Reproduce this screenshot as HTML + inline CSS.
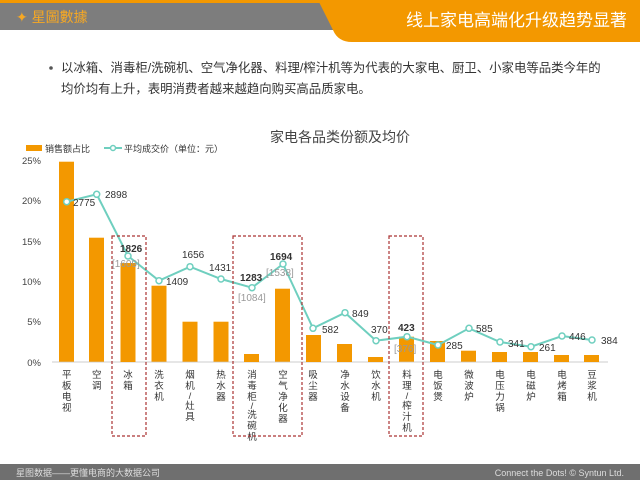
<!DOCTYPE html>
<html><head><meta charset="utf-8"><style>
body{margin:0;width:640px;height:480px;overflow:hidden;background:#fff;font-family:"Liberation Sans","Noto Sans CJK SC",sans-serif}
</style></head><body>
<svg width="640" height="480" xmlns="http://www.w3.org/2000/svg" style="position:absolute;left:0;top:0;font-family:'Liberation Sans','Noto Sans CJK SC',sans-serif">
<rect x="0" y="0" width="640" height="3" fill="#f39800"/>
<rect x="0" y="3" width="340" height="27" fill="#7d7d7d"/>
<path d="M318 0 L640 0 L640 42 L352 42 Q338 42 333 30 L322 8 Q319 2 318 0 Z" fill="#f39800"/>
<text x="16" y="22" font-size="14" fill="#f7a823">✦ 星圖數據</text>
<text x="627" y="26" font-size="17" fill="#fff" text-anchor="end">线上家电高端化升级趋势显著</text>
<circle cx="51" cy="68" r="1.8" fill="#555"/>
<text x="61" y="72" font-size="12.4" fill="#333">以冰箱、消毒柜/洗碗机、空气净化器、料理/榨汁机等为代表的大家电、厨卫、小家电等品类今年的</text>
<text x="61" y="93" font-size="12.4" fill="#333">均价均有上升，表明消费者越来越趋向购买高品质家电。</text>
<text x="340" y="142" font-size="14" fill="#444" text-anchor="middle">家电各品类份额及均价</text>
<rect x="26" y="145" width="16" height="6" fill="#f39800"/>
<text x="45" y="152" font-size="9" fill="#333">销售额占比</text>
<line x1="104" y1="148" x2="122" y2="148" stroke="#6fcfbf" stroke-width="2"/>
<circle cx="113" cy="148" r="2.5" fill="#fff" stroke="#6fcfbf" stroke-width="1.5"/>
<text x="124" y="152" font-size="9" fill="#333">平均成交价（单位：元）</text>
<g font-size="9.5" fill="#444" text-anchor="end">
<text x="41" y="164">25%</text><text x="41" y="204">20%</text><text x="41" y="245">15%</text><text x="41" y="285">10%</text><text x="41" y="325">5%</text><text x="41" y="366">0%</text>
</g>
<line x1="52" y1="362" x2="608" y2="362" stroke="#ccc" stroke-width="1"/>
<g fill="#f39800">
<rect x="59" y="161.7" width="15" height="200"/>
<rect x="89" y="237.7" width="15" height="124"/>
<rect x="120.5" y="263" width="15" height="99"/>
<rect x="151.5" y="285.7" width="15" height="76"/>
<rect x="182.5" y="321.7" width="15" height="40"/>
<rect x="213.5" y="321.7" width="15" height="40"/>
<rect x="244" y="354" width="15" height="8"/>
<rect x="275" y="288.7" width="15" height="73"/>
<rect x="306" y="335" width="15" height="27"/>
<rect x="337" y="344" width="15" height="18"/>
<rect x="368" y="357" width="15" height="5"/>
<rect x="399" y="336.7" width="15" height="25"/>
<rect x="430" y="341" width="15" height="21"/>
<rect x="461" y="350.7" width="15" height="11"/>
<rect x="492" y="352" width="15" height="10"/>
<rect x="523" y="352" width="15" height="10"/>
<rect x="554" y="355" width="15" height="7"/>
<rect x="584" y="355" width="15" height="7"/>
</g>
<polyline fill="none" stroke="#6fcfbf" stroke-width="2" points="66.7,201.7 96.7,194.3 128,256 159,280.7 190,266.7 221,279 252,287.7 283,264 313,328.3 345,312.7 376,340.7 407,336.7 438,345 469,328.3 500,342 531,346.7 562,336 592,340"/>
<g fill="#fff" stroke="#6fcfbf" stroke-width="1.5">
<circle cx="66.7" cy="201.7" r="3"/><circle cx="96.7" cy="194.3" r="3"/><circle cx="128" cy="256" r="3"/><circle cx="159" cy="280.7" r="3"/><circle cx="190" cy="266.7" r="3"/><circle cx="221" cy="279" r="3"/><circle cx="252" cy="287.7" r="3"/><circle cx="283" cy="264" r="3"/><circle cx="313" cy="328.3" r="3"/><circle cx="345" cy="312.7" r="3"/><circle cx="376" cy="340.7" r="3"/><circle cx="407" cy="336.7" r="3"/><circle cx="438" cy="345" r="3"/><circle cx="469" cy="328.3" r="3"/><circle cx="500" cy="342" r="3"/><circle cx="531" cy="346.7" r="3"/><circle cx="562" cy="336" r="3"/><circle cx="592" cy="340" r="3"/>
</g>
<g font-size="10" fill="#333">
<text x="73" y="206">2775</text><text x="105" y="198">2898</text>
<text x="120" y="252" font-weight="bold">1826</text>
<text x="112" y="267" fill="#999">[1609]</text>
<text x="166" y="285">1409</text><text x="182" y="258">1656</text><text x="209" y="271">1431</text>
<text x="240" y="281" font-weight="bold">1283</text><text x="238" y="301" fill="#999">[1084]</text>
<text x="270" y="260" font-weight="bold">1694</text><text x="266" y="276" fill="#999">[1538]</text>
<text x="322" y="333">582</text><text x="352" y="317">849</text><text x="371" y="333">370</text>
<text x="398" y="331" font-weight="bold">423</text><text x="394" y="352" fill="#999">[376]</text>
<text x="446" y="349">285</text><text x="476" y="332">585</text><text x="508" y="347">341</text><text x="539" y="351">261</text><text x="569" y="340">446</text><text x="601" y="344">384</text>
</g>
<g font-size="9.5" fill="#333" text-anchor="middle">
<text><tspan x="66.7" y="378">平</tspan><tspan x="66.7" y="389">板</tspan><tspan x="66.7" y="400">电</tspan><tspan x="66.7" y="411">视</tspan></text>
<text><tspan x="96.7" y="378">空</tspan><tspan x="96.7" y="389">调</tspan></text>
<text><tspan x="128" y="378">冰</tspan><tspan x="128" y="389">箱</tspan></text>
<text><tspan x="159" y="378">洗</tspan><tspan x="159" y="389">衣</tspan><tspan x="159" y="400">机</tspan></text>
<text><tspan x="190" y="378">烟</tspan><tspan x="190" y="389">机</tspan><tspan x="190" y="399">/</tspan><tspan x="190" y="409">灶</tspan><tspan x="190" y="420">具</tspan></text>
<text><tspan x="221" y="378">热</tspan><tspan x="221" y="389">水</tspan><tspan x="221" y="400">器</tspan></text>
<text><tspan x="252" y="378">消</tspan><tspan x="252" y="389">毒</tspan><tspan x="252" y="400">柜</tspan><tspan x="252" y="409">/</tspan><tspan x="252" y="418">洗</tspan><tspan x="252" y="429">碗</tspan><tspan x="252" y="440">机</tspan></text>
<text><tspan x="283" y="378">空</tspan><tspan x="283" y="389">气</tspan><tspan x="283" y="400">净</tspan><tspan x="283" y="411">化</tspan><tspan x="283" y="422">器</tspan></text>
<text><tspan x="313" y="378">吸</tspan><tspan x="313" y="389">尘</tspan><tspan x="313" y="400">器</tspan></text>
<text><tspan x="345" y="378">净</tspan><tspan x="345" y="389">水</tspan><tspan x="345" y="400">设</tspan><tspan x="345" y="411">备</tspan></text>
<text><tspan x="376" y="378">饮</tspan><tspan x="376" y="389">水</tspan><tspan x="376" y="400">机</tspan></text>
<text><tspan x="407" y="378">料</tspan><tspan x="407" y="389">理</tspan><tspan x="407" y="399">/</tspan><tspan x="407" y="409">榨</tspan><tspan x="407" y="420">汁</tspan><tspan x="407" y="431">机</tspan></text>
<text><tspan x="438" y="378">电</tspan><tspan x="438" y="389">饭</tspan><tspan x="438" y="400">煲</tspan></text>
<text><tspan x="469" y="378">微</tspan><tspan x="469" y="389">波</tspan><tspan x="469" y="400">炉</tspan></text>
<text><tspan x="500" y="378">电</tspan><tspan x="500" y="389">压</tspan><tspan x="500" y="400">力</tspan><tspan x="500" y="411">锅</tspan></text>
<text><tspan x="531" y="378">电</tspan><tspan x="531" y="389">磁</tspan><tspan x="531" y="400">炉</tspan></text>
<text><tspan x="562" y="378">电</tspan><tspan x="562" y="389">烤</tspan><tspan x="562" y="400">箱</tspan></text>
<text><tspan x="592" y="378">豆</tspan><tspan x="592" y="389">浆</tspan><tspan x="592" y="400">机</tspan></text>
</g>
<g fill="none" stroke="#a33" stroke-width="1.2" stroke-dasharray="3,2">
<rect x="112" y="236" width="34" height="200"/>
<rect x="233" y="236" width="69" height="200"/>
<rect x="389" y="236" width="34" height="200"/>
</g>
<rect x="0" y="464" width="640" height="16" fill="#6f6f6f"/>
<text x="16" y="476" font-size="9" fill="#ddd">星图数据——更懂电商的大数据公司</text>
<text x="624" y="476" font-size="9" fill="#ddd" text-anchor="end">Connect the Dots! © Syntun Ltd.</text>
</svg>
</body></html>
